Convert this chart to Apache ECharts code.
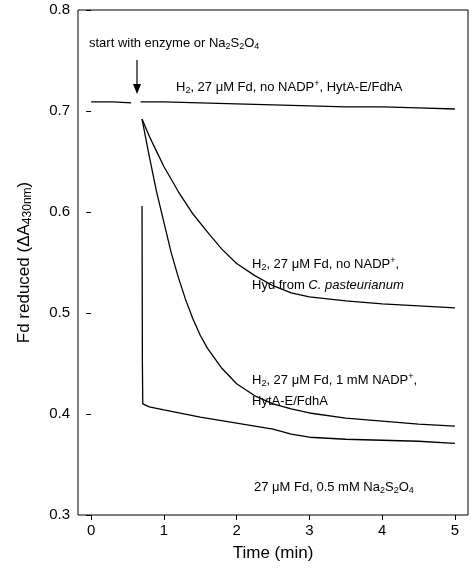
<!DOCTYPE html><html><head><meta charset="utf-8"><script src="https://cdn.jsdelivr.net/npm/echarts@6/dist/echarts.min.js"></script></head><body style="margin:0"><div id="c" style="width:474px;height:577px"></div><script>
const xTicks=[0,1,2,3,4,5];
const noNadpPre=[[0,0.709],[0.3,0.709],[0.55,0.708]];
const noNadpPost=[[0.68,0.709],[1,0.709],[1.5,0.708],[2,0.707],[2.5,0.706],[3,0.705],[3.5,0.704],[4,0.704],[4.5,0.703],[5,0.702]];
const hydCp=[[0.7,0.692],[0.8,0.675],[0.9,0.66],[1,0.645],[1.2,0.62],[1.4,0.598],[1.6,0.58],[1.8,0.563],[2,0.549],[2.25,0.537],[2.5,0.527],[2.75,0.52],[3,0.516],[3.5,0.512],[4,0.509],[4.5,0.507],[5,0.505]];
const hytA=[[0.7,0.692],[0.8,0.655],[0.9,0.62],[1,0.59],[1.1,0.56],[1.2,0.535],[1.3,0.513],[1.4,0.494],[1.5,0.478],[1.6,0.465],[1.8,0.445],[2,0.43],[2.25,0.418],[2.5,0.41],[2.75,0.405],[3,0.401],[3.5,0.396],[4,0.393],[4.5,0.39],[5,0.388]];
const dithionite=[[0.7,0.606],[0.705,0.45],[0.71,0.41],[0.8,0.407],[1,0.404],[1.5,0.397],[2,0.391],[2.5,0.385],[2.75,0.38],[3,0.377],[3.5,0.375],[4,0.374],[4.5,0.373],[5,0.371]];
const F='Liberation Sans';
const s=(d)=>({type:'line',data:d,showSymbol:false,symbol:'none',lineStyle:{color:'#000',width:1.3},silent:true});
const t=(x,y,rich)=>({type:'text',left:x,top:y,style:{rich:{n:{fontSize:13,fontFamily:F,fill:'#000'},i:{fontSize:13,fontFamily:F,fontStyle:'italic',fill:'#000'},b:{fontSize:9,fontFamily:F,fill:'#000',padding:[7,0,0,0]},p:{fontSize:9,fontFamily:F,fill:'#000',padding:[0,0,8,0]}},text:rich}});
const ch=echarts.init(document.getElementById('c'));
ch.setOption({animation:false,
grid:{left:78,right:6,top:10,bottom:62,show:true,borderColor:'#000',borderWidth:1},
xAxis:{type:'value',min:-0.18,max:5.18,interval:1,axisLine:{show:false},splitLine:{show:false},
 axisTick:{show:true,length:5,lineStyle:{color:'#000'},customValues:xTicks},
 axisLabel:{fontSize:15,fontFamily:F,color:'#000',customValues:xTicks},
 name:'Time (min)',nameLocation:'middle',nameGap:30,nameTextStyle:{fontSize:17,fontFamily:F,color:'#000'}},
yAxis:{type:'value',min:0.3,max:0.8,interval:0.1,axisLine:{show:false},splitLine:{show:false},
 axisTick:{show:true,length:5,lineStyle:{color:'#000'}},
 axisLabel:{fontSize:15,fontFamily:F,color:'#000',formatter:v=>v.toFixed(1)},
 name:'{a|Fd reduced (ΔA}{s|430nm}{a|)}',nameLocation:'middle',nameGap:44,
 nameTextStyle:{rich:{a:{fontSize:17,fontFamily:F,color:'#000'},s:{fontSize:12,fontFamily:F,color:'#000',padding:[8,0,0,0]}}}},
series:[s(noNadpPre),s(noNadpPost),s(hydCp),s(hytA),s(dithionite)],
graphic:[
 t(89,37,'{n|start with enzyme or Na}{b|2}{n|S}{b|2}{n|O}{b|4}'),
 {type:'line',shape:{x1:137,y1:60,x2:137,y2:91},style:{stroke:'#000',lineWidth:1.2}},
 {type:'polygon',shape:{points:[[133,84],[141,84],[137,94]]},style:{fill:'#000'}},
 t(176,79,'{n|H}{b|2}{n|, 27 μM Fd, no NADP}{p|+}{n|, HytA-E/FdhA}'),
 t(252,256,'{n|H}{b|2}{n|, 27 μM Fd, no NADP}{p|+}{n|,}'),
 t(252,279,'{n|Hyd from }{i|C. pasteurianum}'),
 t(252,372,'{n|H}{b|2}{n|, 27 μM Fd, 1 mM NADP}{p|+}{n|,}'),
 t(252,395,'{n|HytA-E/FdhA}'),
 t(254,481,'{n|27 μM Fd, 0.5 mM Na}{b|2}{n|S}{b|2}{n|O}{b|4}')
]});
</script></body></html>
